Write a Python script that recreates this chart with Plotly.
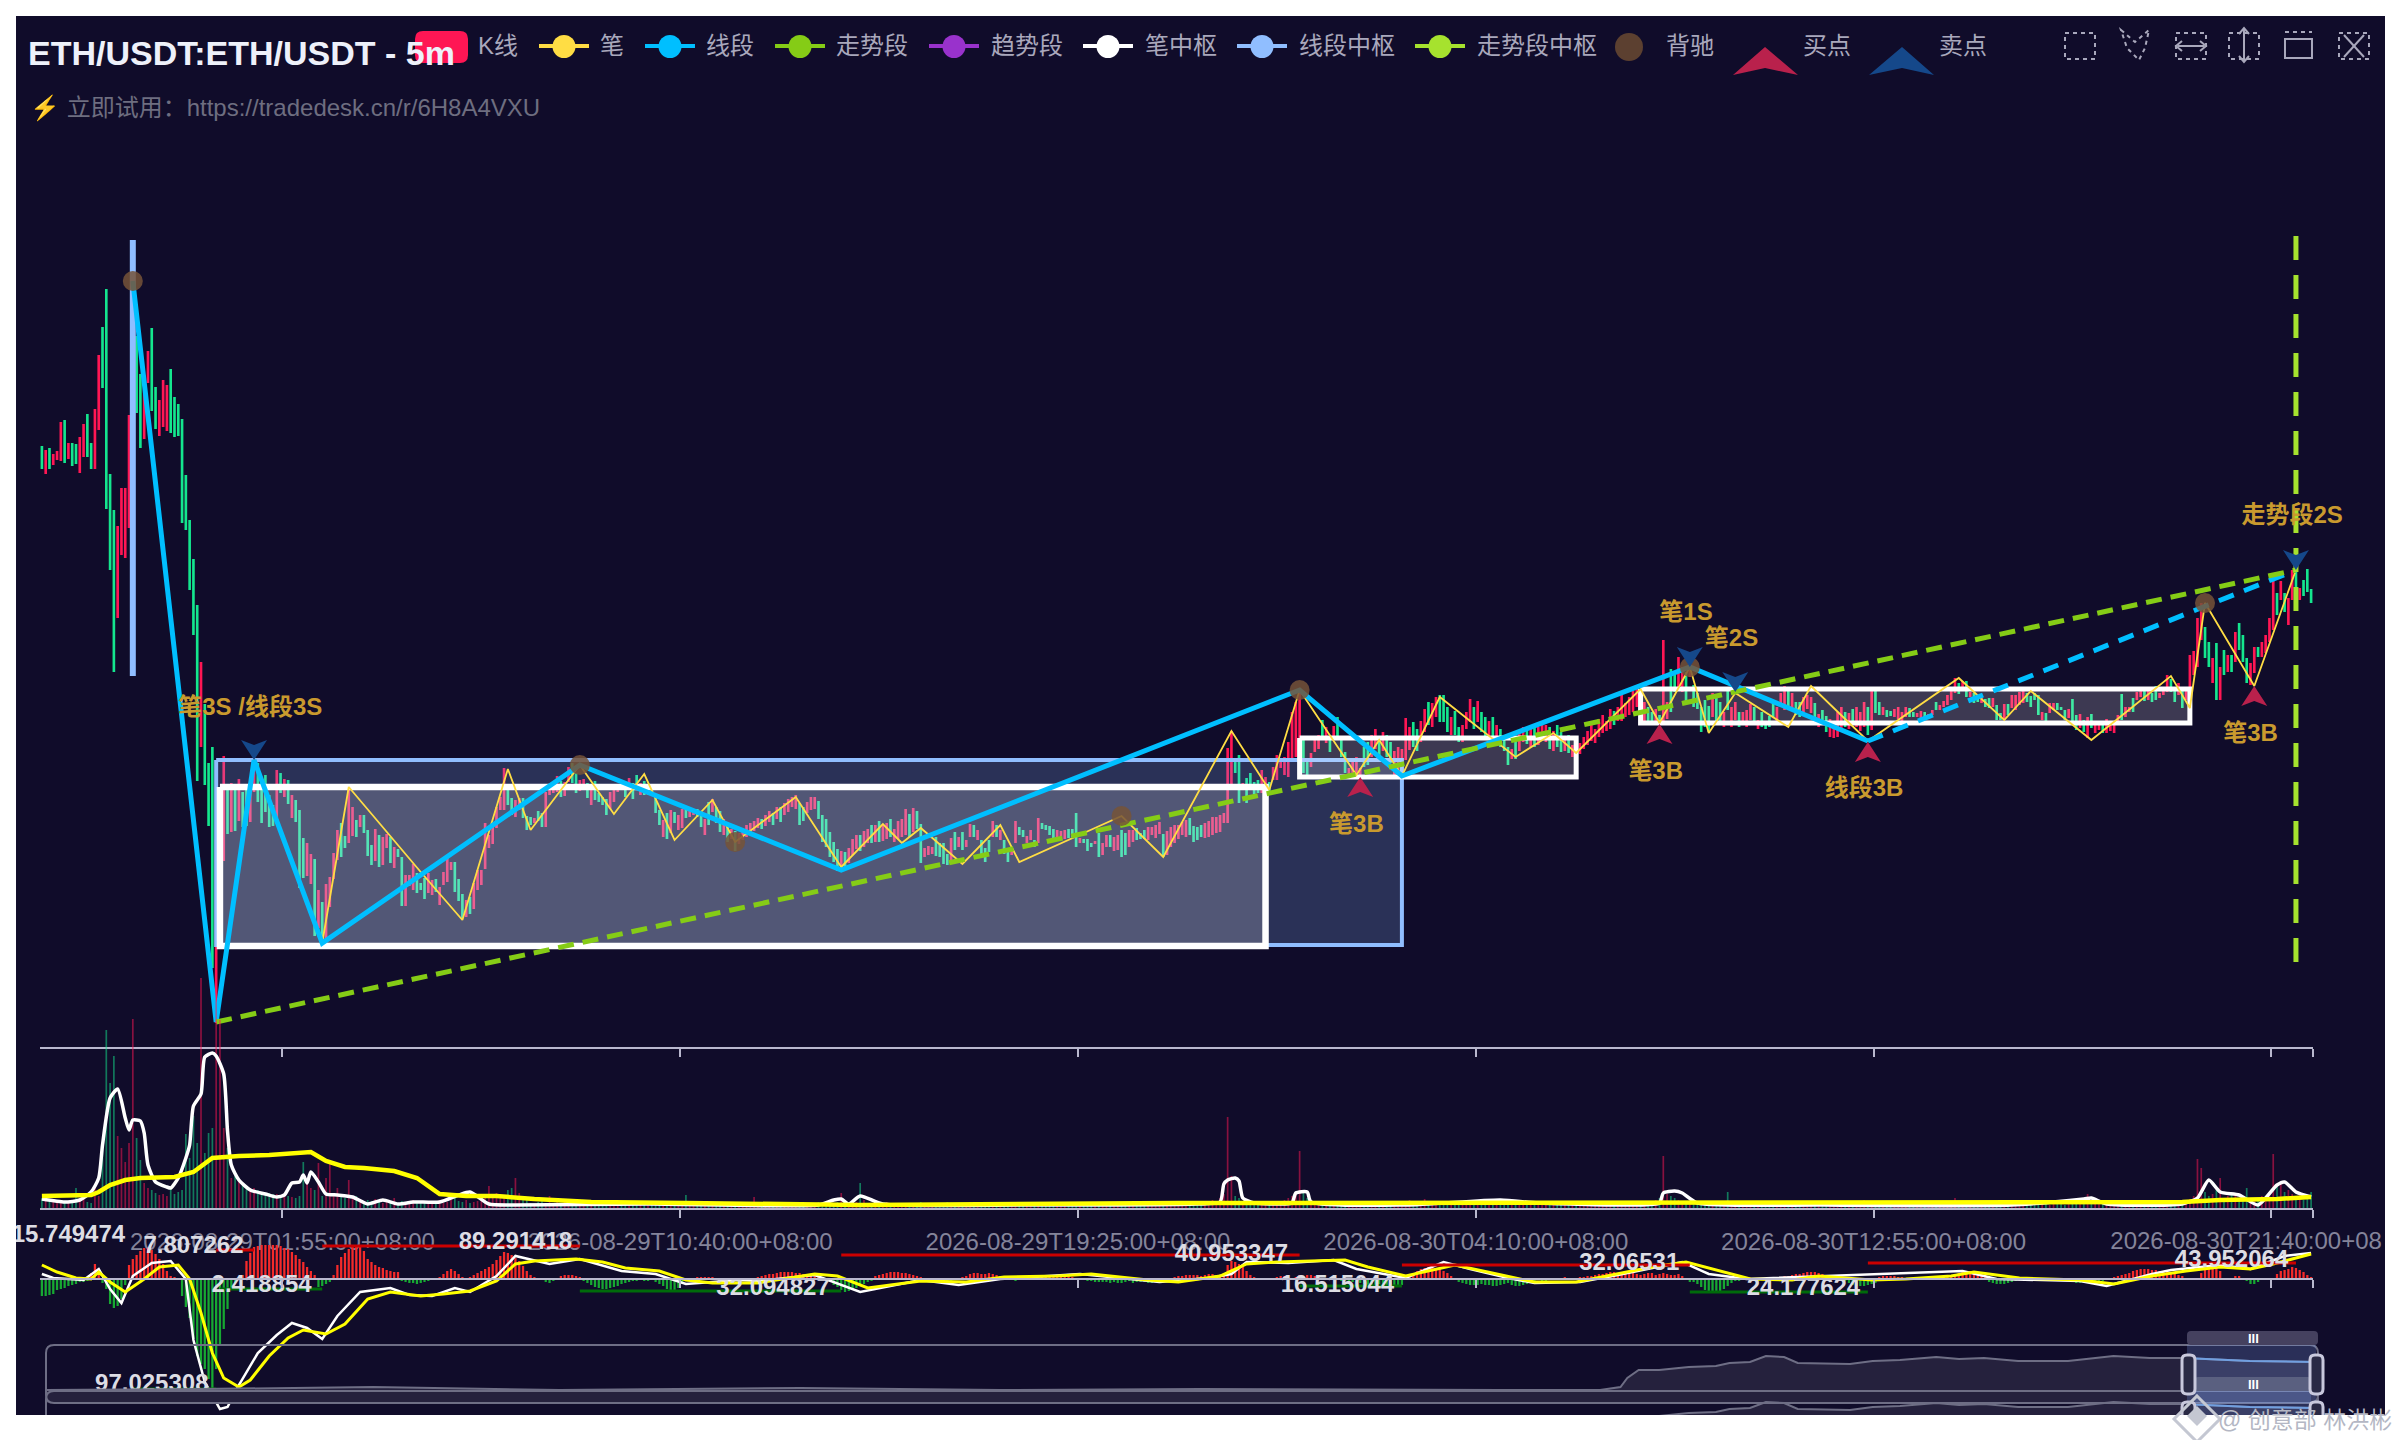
import plotly.graph_objects as go

W = 2400
H = 1440

# candles, heights, one row = 10 bars
candle_top = [
601,597,599,593,596,625,627,604,604,603, 610,623,633,604,638,692,720,758,573,537,
521,559,559,632,765,711,673,669,696,719, 660,647,667,662,678,650,643,628,572,527,
488,442,385,343,284,300,208,245,291,258, 264,259,268,255,257,270,286,284,265,272,
252,242,277,274,268,267,252,247,237,209, 204,193,188,157,145,163,170,194,217,224,
211,260,240,227,232,232,217,202,218,212, 210,213,210,200,198,190,172,172,183,174,
164,169,174,167,168,160,175,189,185,185, 168,153,147,150,164,177,177,224,212,220,
240,250,279,263,249,247,249,249,231,230, 229,236,234,255,257,265,271,266,265,280,
284,274,267,268,264,259,266,254,250,248, 255,257,262,263,262,269,264,272,264,266,
261,258,250,237,227,234,237,235,232,238, 240,237,238,238,231,228,245,248,240,236,
228,224,218,216,214,218,222,224,226,229, 228,232,236,234,240,240,244,248,250,252,
244,240,245,250,250,246,232,228,215,205, 198,196,195,199,208,212,212,216,218,222,
222,226,222,224,228,218,226,228,238,233, 239,236,223,199,201,200,210,204,204,193,
209,215,210,215,207,223,222,217,207,199, 207,226,222,217,207,199,198,226,220,217,
211,217,207,229,224,222,221,218,217,216, 217,218,218,234,209,208,208,204,206,214,
204,212,212,210,212,217,214,217,217,219, 214,217,220,220,222,225,213,216,220,222,
222,225,227,229,221,220,222,224,226,230, 230,232,234,299,316,287,292,264,269,274,
265,267,277,270,265,280,292,288,290,305, 335,345,357,307,287,294,310,312,327,320,
310,321,330,310,295,279,285,290,279,300, 305,312,318,310,315,312,305,296,300,298,
329,320,325,318,326,338,345,344,350,352, 352,340,330,336,320,322,335,348,340,346,
335,330,326,330,322,318,312,300,298,306, 316,320,320,318,322,320,326,322,320,316,
322,315,310,312,302,300,304,310,316,322, 318,328,332,326,338,336,340,352,344,350,
356,360,358,345,340,335,338,332,407,345, 378,372,390,380,375,387,362,354,340,347,
341,354,350,345,335,357,340,345,335,335, 337,343,340,327,335,325,331,344,340,354,
361,360,354,345,345,350,352,350,344,333, 337,331,328,325,335,340,335,334,338,340,
335,345,340,357,358,345,340,337,336,338, 340,335,
340,339,335,334,336,335,333,337,345,342,346,
352,360,369,364,366,366,355,354,350,350,348,
349,349,342,334,343,343,352,352,355,357,354,
351,354,352,335,334,344,344,344,340,337,338,
348,332,333,327,330,333,324,322,322,328,326,
324,332,353,340,340,349,355,360,359,356,354,
361,354,359,372,368,360,364,359,359,392,396,
429,444,420,405,389,404,380,397,392,392,
415,424,412,389,384,400,400,405,412,429,
474,454,466,454,449,477,475,459,467,478,458]
candle_bottom = [
578,573,578,582,587,586,584,588,581,583, 574,590,590,578,578,617,659,538,477,375,
429,492,489,519,620,634,599,608,664,636, 618,611,620,616,614,610,611,524,517,457,
412,266,300,262,221,79,24,171,186,213, 215,216,226,220,221,225,255,245,224,235,
220,221,229,254,250,243,229,225,159,169, 171,163,111,119,102,104,140,168,187,190,
199,204,211,210,220,214,191,182,186,180, 182,199,184,179,190,141,141,161,157,154,
157,148,154,152,155,142,162,165,177,155, 146,129,130,133,138,157,162,178,199,203,
219,237,237,242,232,230,237,229,217,222, 224,226,220,220,252,254,255,250,251,265,
264,254,256,260,249,242,247,245,242,232, 238,245,255,258,250,258,248,260,252,252,
252,252,234,222,210,208,214,224,217,219, 229,230,232,230,220,212,222,235,224,215,
212,205,208,196,203,207,210,213,216,219, 218,221,225,222,228,225,232,235,240,238,
222,226,234,237,238,228,205,200,190,185, 176,176,178,184,192,198,196,200,204,204,
205,205,206,208,210,205,208,210,212,210, 215,218,184,190,192,193,191,190,183,182,
187,197,200,197,200,210,210,207,193,185, 195,210,210,207,193,185,192,204,212,210,
204,207,200,204,218,217,212,208,209,207, 208,209,210,200,204,204,196,200,203,190,
192,200,200,196,197,190,192,200,205,207, 208,208,207,212,209,213,190,192,200,204,
208,212,210,212,205,207,210,209,210,212, 214,215,224,224,260,274,244,260,244,260,
253,254,254,258,253,267,267,279,272,270, 285,290,280,274,272,280,295,298,309,304,
295,309,307,290,274,269,272,270,269,280, 282,290,298,290,296,290,284,272,271,272,
287,297,300,296,305,315,322,320,330,325, 325,315,312,312,305,305,318,325,318,325,
315,310,312,310,308,300,296,282,288,288, 296,305,303,300,300,302,310,305,298,296,
300,295,296,294,290,290,293,298,302,306, 304,310,314,316,318,322,326,326,330,332,
335,340,332,325,323,322,325,322,324,328, 335,355,360,355,345,370,340,338,315,320,
315,330,326,325,320,337,320,327,320,322, 320,327,325,318,320,318,320,330,325,340,
337,340,338,332,330,335,338,334,325,320, 323,315,310,309,310,317,320,318,322,320,
316,320,312,317,334,332,332,330,331,330, 328,325,
330,330,330,330,329,330,330,332,337,337,340,
342,347,354,353,356,350,350,344,345,344,340,
339,340,327,327,327,332,339,337,342,344,345,
340,347,332,327,325,334,337,337,337,327,329,
324,317,319,315,309,319,314,317,314,314,316,
314,322,327,330,335,335,347,350,346,347,345,
347,349,352,355,355,345,352,339,347,359,372,
380,407,389,380,364,347,347,372,375,375,
385,397,385,364,362,374,390,390,394,405,
417,432,447,435,422,447,448,447,451,455,444]
candle_dir = (
"GRGRRRGRGG RRGGRRGGGG RRRRRGGRRG GRRRGGGGGG GGRGGGRRRG RGRGGRRGGG "
"GGRGRGRGGG RRGRGRRRRG GRRGRGGGRG RRGRGGRRRG GGRRGRRRRG GGRGRRRRRR "
"RRRGGRRGGG RGGRRRRGRR GGRRGRGGGG RRRGGRGGRG RGGGRGRGRR GRRGGRGRGG "
"RGRGRRRRRR GRRGRGRRRR GGRRRGGGGG GRGRRRGRRG RGRRGRRRRG RGGRRRGGGG "
"RGRGRRGRGG GRGRGGRRGG RRGRGGGGRR RGGGRGGGRG RRGRRGGRRG GGRRRRGRRR "
"RRRGGGGRRR RRRRRGGRGG GGRRGRRRRR RRRGGRRRGR GRGGGRRRRG GRRGRGGRRR "
"RRGGRRGRRG GGRGGRRRGR GGRGRGGGRG RRGRGRRRGR GGRGRGRRRR RRRRRGRRRR "
"RRGRGGRGRR GGRRGRGGGG GRGGRGRRGR RRGRGGGGRR RGRGGRRRGR GGRRRRGRGR "
"RRGRGGRGGR RR "
"RGGRRGRRGRR RRRGRGRGGRG GRGGRGRRRRG GGGRGRRGGGR GGRGRGRRGRR RRGRRGRRGRG "
"GRRRGGRGRRR RRGGRGRGRG RGGGRRGRRR RGRGRRGRGGG").replace(" ", "")

# zigzag pivots: bar index, height
bi_idx = [46,56,74,81,100,111,123,129,142,151,159,167,177,183,199,211,222,227,232,243,253,258,285,296,314,324,332,347,353,359,369,389,399,405,422,427,435,440,447,461,467,482,506,518,525,541,562,567,571,584,595]
bi_price = [25,287,104,260,175,127,278,217,282,233,273,207,247,205,250,180,223,204,219,183,222,185,231,190,316,257,357,272,307,271,350,290,314,294,358,324,380,314,354,320,361,306,369,327,356,307,371,339,444,361,477]
duan_idx = [24,46,56,74,142,211,332,359,435,482]
duan_price = [766,25,287,104,282,177,357,271,380,306]
duan_dash_idx = [482,595]
duan_dash_price = [306,477]
trend_idx = [46,595]
trend_price = [25,477]

# centre boxes
seg_box_start = [46]
seg_box_end = [359]
seg_box_top = [287]
seg_box_bottom = [102]
bi_box_start = [47,332,422]
bi_box_end = [323,405,567]
bi_box_top = [260,309,358]
bi_box_bottom = [101,270,324]
seg_bar_idx = [24,24]
seg_bar_price = [807,371]
trend_bar_idx = [595,595]
trend_bar_price = [811,80]

# signals
diverge_idx = [24,142,183,285,332,435,571]
diverge_price = [766,282,205,231,357,380,444]
buy_idx = [348,427,482,584]
buy_price = [270,323,305,361]
sell_idx = [56,435,447,595]
sell_price = [287,380,355,477]
signal_text = ["笔3S /线段3S","笔3B","笔3B","线段3B","笔1S","笔2S","笔3B","走势段2S"]
signal_idx = [55,347,426,481,434,446,583,594]
signal_price = [338,221,274,257,433,407,312,530]

# volume panel
volume = [
10,8,7,7,5,6,5,5,7,20, 8,14,6,5,23,12,65,178,125,152, 72,60,46,65,189,70,48,25,20,18, 15,13,14,12,20,14,16,18,74,50,
92,65,230,55,75,80,240,188,80,60, 30,32,28,25,22,20,20,18,16,15, 15,14,14,13,12,12,11,10,12,46, 25,20,18,45,12,30,48,15,20,14,
10,28,10,12,8,6,8,7,9,6, 5,8,6,10,5,7,6,5,8,5, 6,5,4,6,5,8,5,6,8,10, 7,6,8,5,6,7,9,12,22,14,
15,10,12,18,20,30,15,10,8,5, 4,6,8,5,12,5,6,4,7,4, 6,5,4,3,5,4,6,7,5,4, 6,4,5,3,4,6,4,7,4,5,
4,3,4,5,6,4,3,5,4,3, 13,4,3,5,4,3,5,4,3,4, 3,5,4,4,3,4,3,5,11,4, 3,4,5,3,4,3,6,4,3,5,
4,3,5,4,3,6,4,3,5,4, 6,15,5,4,3,6,25,8,5,4, 5,4,3,6,4,3,5,4,3,5, 4,3,6,5,3,4,5,3,4,6,
4,3,5,4,3,6,5,4,3,5, 4,6,3,5,4,3,5,4,6,3, 4,5,3,6,4,3,5,4,3,5, 6,3,4,5,3,4,6,3,5,4,
3,5,4,6,3,4,5,3,4,6, 3,5,4,3,6,4,5,3,4,5, 6,4,3,5,4,6,3,5,4,8, 6,10,14,91,32,12,10,7,5,6,
4,5,6,4,3,7,5,4,8,10, 12,14,57,18,10,8,6,5,7,4, 5,4,6,3,5,4,6,4,3,5, 4,6,3,5,4,6,3,4,5,3,
6,8,5,7,4,9,6,5,7,4, 5,6,4,7,5,3,6,4,5,3, 4,6,3,5,4,3,6,5,3,4, 5,3,6,4,3,5,4,6,3,4,
5,3,4,6,3,5,4,3,6,4, 3,5,4,6,3,5,4,3,6,4, 5,3,4,6,4,5,8,10,52,14, 12,10,8,6,7,8,5,6,4,5,
4,6,5,3,7,16,5,4,6,3, 5,4,3,6,4,3,5,4,6,3, 4,5,3,6,4,3,5,4,3,6, 4,5,3,4,6,3,5,4,3,5,
6,8,5,4,3,6,4,5,3,4, 5,3,4,6,3,4,5,3,6,4, 3,5,4,6,3,10,5,4,3,6, 5,4,7,4,3,6,4,5,3,4,
6,3,5,4,3,6,4,3,5,4, 3,6,5,4,3,6,4,5,8,10, 14,7,5,4,6,3,5,4,3,6, 5,4,7,4,3,8,4,6,5,7,
4,6,5,8,6,5,7,9,12,49, 40,16,12,14,18,30,10,12,16,14, 10,12,20,10,9,8,12,10,14,54, 22,26,16,18,14,10,14,8,12,16]
vol_fast_idx = [0,6,10,13,15,16,18,20,22,23,24,26,27,28,30,33,34,36,38,39,40,42,43,45,46,48,49,50,52,55,59,62,64,66,68,69,70,71,73,75,78,82,86,90,94,98,105,110,113,118,125,160,205,209,211,213,216,222,260,305,311,312,313,315,316,317,320,328,330,331,334,335,360,385,395,420,427,428,431,433,437,470,520,539,541,545,565,569,572,575,580,585,590,592,595,599]
vol_fast = [9,6,8,16,30,63,110,119,90,78,88,87,75,43,26,21,20,30,50,63,102,114,151,155,152,134,77,43,28,18,14,11,13,25,26,33,25,36,26,14,13,11,4,8,4,6,6,13,16,4,3,4,3,8,9,4,12,4,3,4,6,24,28,30,27,10,5,4,5,15,16,6,3,8,5,3,5,15,17,15,5,3,3,9,10,4,4,10,28,16,13,3,23,26,16,11]
vol_slow_idx = [0,10,13,15,18,22,26,35,40,45,48,52,60,66,71,75,80,85,93,99,105,112,120,130,145,170,216,300,400,500,565,575,590,599]
vol_slow = [12,12,13,16,23,28,30,31,36,50,51,52,53,55,56,47,41,40,37,30,14,12,12,9,6,5,3,5,5,5,6,8,9,11]

# macd panel
macd_hist = [
-17,-17,-16,-15,-11,-10,-9,-7,-6,-5, -3,-3,-2,6,15,8,-4,-10,-25,-29, -27,-20,-6,14,20,24,28,31,31,29, 25,20,15,8,3,2,1,-17,-28,-39,
-60,-77,-85,-90,-100,-109,-90,-67,-50,-30, -10,-4,-1,4,18,26,32,33,34,34, 34,34,34,33,31,30,27,24,20,17, 12,8,4,-8,-7,-5,-3,4,14,22,
26,30,32,33,33,28,20,17,14,12, 11,9,8,7,7,-2,-3,-4,-4,-5, -4,-3,-2,-1,1,2,5,8,10,8, 5,2,-1,2,4,6,8,10,12,15,
19,23,27,26,24,21,18,13,8,4, 2,1,-1,-3,-4,-2,1,3,4,4, 4,3,2,-2,-4,-6,-8,-9,-10,-10, -9,-8,-7,-5,-4,-3,-2,-2,-1,-2,
-2,-1,-3,-5,-7,-10,-12,-12,-9,-5, -2,1,1,2,2,2,2,2,1,-1, -2,-2,-2,-2,-1,-2,-2,-1,1,2, 3,4,5,5,6,7,7,7,7,6,
6,5,5,4,4,3,2,1,-3,-6, -8,-11,-13,-12,-10,-9,-7,-5,-3,-2, 3,4,5,6,7,7,7,6,6,5, 4,3,2,-1,-2,-2,-3,-2,-1,-2,
-2,-1,1,2,3,5,6,6,5,5, 6,5,4,3,2,2,-1,-2,-1,1, 2,3,3,3,4,3,2,3,3,2, 3,3,2,1,1,-1,-2,-2,-3,-3,
-3,-3,-4,-3,-4,-4,-3,-2,-4,-3, -3,-3,-4,-4,-2,-1,-1,1,1,2, 3,3,4,4,4,4,3,4,5,5, 3,2,5,14,18,17,15,12,8,4,
2,1,-1,0,-1,1,2,3,3,1, 1,2,4,3,4,4,3,2,1,1, 0,-1,-1,-2,-2,-3,-3,-4,-4,-5, -6,-6,-6,-5,-6,-7,-8,-8,-8,-6,
2,4,6,8,10,11,12,12,11,10, 8,6,3,1,-3,-4,-5,-6,-6,-6, -5,-6,-6,-7,-7,-6,-5,-4,-6,-7, -7,-6,-5,-3,-2,-1,-2,-2,-1,1,
1,1,2,-1,-1,1,2,2,3,3, 4,5,5,6,7,7,6,5,5,7, 6,5,4,5,6,6,4,5,6,5, 4,4,5,3,-1,-3,-3,-5,-8,-11,
-12,-13,-13,-12,-10,-7,-4,-2,-2,-1, -1,-1,-2,-2,-1,1,1,1,2,2, 3,3,4,5,5,6,7,7,7,6, 5,3,3,2,1,-1,-2,-4,-6,-7,
-7,-7,-6,-5,-4,2,3,3,3,3, 2,2,1,1,1,1,1,1,1,1, 1,1,2,3,4,5,6,7,8,8, 7,6,5,4,-3,-4,-5,-5,-5,-4,
-3,-2,-1,-1,-1,-2,-1,-1,1,1, 1,1,-1,-1,-2,-2,-3,-4,-4,-4, -4,-4,-3,-3,-2,-1,1,2,3,4, 5,6,8,9,10,10,10,9,9,8,
8,7,7,6,4,3,1,1,-1,-1, 6,10,12,12,11,8,-1,-1,1,3, 3,1,-2,-5,-5,-3,-1,1,1,1, 5,8,9,10,12,11,9,7,4,2]
dif_idx = [0,3,11,15,18,21,24,29,34,38,40,43,47,49,52,57,62,66,70,74,78,84,92,97,103,109,113,120,125,134,142,153,162,170,184,189,204,216,232,242,253,274,295,308,314,318,329,341,347,360,370,377,387,394,406,416,433,440,450,507,516,538,545,557,562,575,583,592,599]
dif = [5,1,-1,10,-10,-24,3,16,18,0,-61,-103,-130,-128,-106,-74,-56,-44,-49,-60,-37,-13,-9,-16,-17,-9,-13,3,23,15,20,8,5,-5,-1,-2,4,-13,-1,-6,0,5,-3,1,5,17,16,19,10,1,17,10,1,-4,-3,4,17,5,0,8,0,-2,-7,5,9,14,10,23,26]
dea_idx = [0,4,9,13,15,18,22,27,31,36,39,42,45,48,52,55,60,65,69,75,80,86,92,100,106,113,120,125,130,141,148,154,163,170,177,189,204,210,218,232,244,254,268,277,292,300,311,318,326,344,350,360,373,387,394,405,416,425,434,443,451,462,469,483,492,504,510,522,538,547,557,566,575,583,589,599]
dea = [14,7,1,0,7,-3,-13,0,12,14,0,-34,-74,-99,-108,-101,-77,-59,-51,-55,-45,-20,-13,-17,-15,-12,-2,15,18,20,17,11,8,-1,-4,-4,5,3,-9,-2,-3,2,3,5,-1,-3,3,15,17,19,12,3,14,3,-3,-3,5,12,17,8,0,-1,3,-1,0,3,7,1,-1,-5,3,8,12,10,15,25]
mark_label = ["15.749474","7.807262","2.418854","89.291418","97.025308","32.094827","40.953347","16.515044","32.06531","24.177624","43.952064"]
mark_idx = [7,40,58,125,29,193,314,342,419,465,578]
mark_value = [43,32,-7,36,-106,-10,24,-7,15,-10,18]
red_line_start = [46,74,211,359,482]
red_line_end = [56,142,332,435,595]
red_line_level = [29,33,24,14,16]
green_line_start = [24,47,142,332,435]
green_line_end = [46,74,211,359,482]
green_line_level = [-110,-10,-12,-7,-13]

tick_idx = [63.5,168.5,273.5,378.5,483.5,588.5,599.5]
tick_text = ["2026-08-29T01:55:00+08:00","2026-08-29T10:40:00+08:00","2026-08-29T19:25:00+08:00","2026-08-30T04:10:00+08:00","2026-08-30T12:55:00+08:00","",""]
# this label runs off the chart in the reference, only its visible part is kept
last_tick_text = ["2026-08-30T21:40:00+08"]
last_tick_idx = [546]
last_tick_level = [36]

# whole history in the zoom sliders: percent along the slider, level
history_pos = [0,6.8,14.4,22.6,33.2,42,50.8,59.6,64,68.4,69.3,69.6,70.1,71,72.3,73.5,74.1,75,75.7,76.5,77.1,79.4,80.4,81.6,83.2,84.2,85.3,86.8,89,91,92.6,94.1,97,99.9]
history_level = [13,14,16,13,15,13,14,13,13,13,16,25,33,33,36,37,40,41,47,46,40,39,42,43,46,44,45,42,42,47,45,45,42,41]

legend_names = ["笔","线段","走势段","趋势段","笔中枢","线段中枢","走势段中枢"]
legend_colors = ["#FFDD44","#00BFFF","#85CC16","#9932CC","#FFFFFF","#90BEFF","#A6E22E"]
legend_centers = [564,670,800,954,1108,1262,1440]
legend_text_x = [598,704,834,989,1143,1297,1475]

RED = "#FF1654"
GREEN = "#14E68E"
BG = "#100C2A"
AXIS = "#B9B8CE"
FONT = "Liberation Sans, Noto Sans CJK SC, sans-serif"


def fx(x):
    return x / W


def fy(y):
    return 1 - y / H


def path_of(points, close=True):
    s = "M" + " L".join(f"{fx(x):.5f},{fy(y):.5f}" for x, y in points)
    return s + (" Z" if close else "")


def rounded(x0, y0, x1, y1, r):
    a = f"M{fx(x0+r):.5f},{fy(y0):.5f} L{fx(x1-r):.5f},{fy(y0):.5f} Q{fx(x1):.5f},{fy(y0):.5f} {fx(x1):.5f},{fy(y0+r):.5f} "
    b = f"L{fx(x1):.5f},{fy(y1-r):.5f} Q{fx(x1):.5f},{fy(y1):.5f} {fx(x1-r):.5f},{fy(y1):.5f} "
    c = f"L{fx(x0+r):.5f},{fy(y1):.5f} Q{fx(x0):.5f},{fy(y1):.5f} {fx(x0):.5f},{fy(y1-r):.5f} "
    d = f"L{fx(x0):.5f},{fy(y0+r):.5f} Q{fx(x0):.5f},{fy(y0):.5f} {fx(x0+r):.5f},{fy(y0):.5f} Z"
    return a + b + c + d


def add_path(fig, p, fill=None, line=None, width=0, dash=None, layer="above"):
    fig.add_shape(type="path", path=p, xref="paper", yref="paper", layer=layer,
                  fillcolor=fill or "rgba(0,0,0,0)",
                  line=dict(color=line or "rgba(0,0,0,0)", width=width, dash=dash))


def add_text(fig, x, y, text, size, color, anchor="left", bold=False):
    fig.add_annotation(x=fx(x), y=fy(y), xref="paper", yref="paper", text=text, showarrow=False,
                       xanchor=anchor, yanchor="middle",
                       font=dict(size=size, color=color, family=FONT, weight="bold" if bold else "normal"))


# arrow polygon around a signal point, the tip sits on the point
def arrow_points(idx, price, up):
    side = 13 / 3.79
    tall = -20 if up else 20
    notch = -15 if up else 15
    return [idx, idx - side, idx, idx + side, idx], [price, price + tall, price + notch, price + tall, price]


fig = go.Figure()

# centre boxes go under the candles
fig.add_trace(go.Scatter(x=[seg_box_start[0], seg_box_end[0], seg_box_end[0], seg_box_start[0], seg_box_start[0]],
                         y=[seg_box_top[0], seg_box_top[0], seg_box_bottom[0], seg_box_bottom[0], seg_box_top[0]],
                         mode="lines", fill="toself", fillcolor="rgba(144,190,255,0.21)",
                         line=dict(color="#90BEFF", width=4), showlegend=False))
for k, (s, e, t, b) in enumerate(zip(bi_box_start, bi_box_end, bi_box_top, bi_box_bottom)):
    fig.add_trace(go.Scatter(x=[s, e, e, s, s], y=[t, t, b, b, t], mode="lines", fill="toself",
                             fillcolor="rgba(255,255,255,0.19)",
                             line=dict(color="#FFFFFF", width=6.5 if k == 0 else 5), showlegend=False))
fig.add_trace(go.Scatter(x=seg_bar_idx, y=seg_bar_price, mode="lines",
                         line=dict(color="#90BEFF", width=6), showlegend=False))

# candles as floating bars, they keep the crisp 2px look of the reference
candle_idx = list(range(len(candle_top)))
candle_span = [t - b for t, b in zip(candle_top, candle_bottom)]
candle_colors = [RED if d == "R" else GREEN for d in candle_dir]
fig.add_trace(go.Bar(x=candle_idx, y=candle_span, base=candle_bottom, width=0.7,
                     marker=dict(color=candle_colors, line=dict(width=0)), showlegend=False))

fig.add_trace(go.Scatter(x=bi_idx, y=bi_price, mode="lines", line=dict(color="#FFDD44", width=1.8), showlegend=False))
fig.add_trace(go.Scatter(x=duan_idx, y=duan_price, mode="lines", line=dict(color="#00BFFF", width=5), showlegend=False))
fig.add_trace(go.Scatter(x=duan_dash_idx, y=duan_dash_price, mode="lines",
                         line=dict(color="#00BFFF", width=5, dash="16px,11px"), showlegend=False))
fig.add_trace(go.Scatter(x=trend_idx, y=trend_price, mode="lines",
                         line=dict(color="#85CC16", width=5, dash="16px,9px"), showlegend=False))
fig.add_trace(go.Scatter(x=trend_bar_idx, y=trend_bar_price, mode="lines",
                         line=dict(color="#A6E22E", width=5, dash="24px,15px"), showlegend=False))
fig.add_trace(go.Scatter(x=diverge_idx, y=diverge_price, mode="markers",
                         marker=dict(size=20, color="rgba(118,84,56,0.85)"), showlegend=False))
for i, p in zip(buy_idx, buy_price):
    ax, ay = arrow_points(i, p, True)
    fig.add_trace(go.Scatter(x=ax, y=ay, mode="lines", fill="toself", fillcolor="#B9214C",
                             line=dict(width=0), showlegend=False))
for i, p in zip(sell_idx, sell_price):
    ax, ay = arrow_points(i, p, False)
    fig.add_trace(go.Scatter(x=ax, y=ay, mode="lines", fill="toself", fillcolor="#15488A",
                             line=dict(width=0), showlegend=False))
fig.add_trace(go.Scatter(x=signal_idx, y=signal_price, mode="text", text=signal_text, cliponaxis=False,
                         textfont=dict(size=24, color="#C99A2E", family=FONT, weight="bold"), showlegend=False))

# volume
vol_colors = ["rgba(255,22,84,0.5)" if d == "R" else "rgba(20,230,142,0.5)" for d in candle_dir]
fig.add_trace(go.Bar(x=candle_idx, y=volume, marker=dict(color=vol_colors, line=dict(width=0)), width=0.45,
                     xaxis="x2", yaxis="y2", showlegend=False))
fig.add_trace(go.Scatter(x=vol_fast_idx, y=vol_fast, mode="lines",
                         line=dict(color="#FFFFFF", width=3.5, shape="spline", smoothing=0.6),
                         xaxis="x2", yaxis="y2", showlegend=False))
fig.add_trace(go.Scatter(x=vol_slow_idx, y=vol_slow, mode="lines", line=dict(color="#FFFF00", width=4.5),
                         xaxis="x2", yaxis="y2", showlegend=False))

# macd
hist_colors = ["#F52A2A" if v > 0 else "#17A832" for v in macd_hist]
fig.add_trace(go.Bar(x=candle_idx, y=macd_hist, marker=dict(color=hist_colors, line=dict(width=0)), width=0.6,
                     xaxis="x3", yaxis="y3", showlegend=False))
fig.add_trace(go.Scatter(x=dif_idx, y=dif, mode="lines", line=dict(color="#FFFFFF", width=2.5),
                         xaxis="x3", yaxis="y3", showlegend=False))
fig.add_trace(go.Scatter(x=dea_idx, y=dea, mode="lines", line=dict(color="#FFFF00", width=3),
                         xaxis="x3", yaxis="y3", showlegend=False))
for s, e, v in zip(red_line_start, red_line_end, red_line_level):
    fig.add_trace(go.Scatter(x=[s, e], y=[v, v], mode="lines", line=dict(color="#CC0000", width=3),
                             xaxis="x3", yaxis="y3", showlegend=False))
for s, e, v in zip(green_line_start, green_line_end, green_line_level):
    fig.add_trace(go.Scatter(x=[s, e], y=[v, v], mode="lines", line=dict(color="#006B0A", width=3),
                             xaxis="x3", yaxis="y3", showlegend=False))
fig.add_trace(go.Scatter(x=mark_idx, y=mark_value, mode="text", text=mark_label, cliponaxis=False,
                         textfont=dict(size=24, color="#DDDDE4", family=FONT, weight="bold"),
                         xaxis="x3", yaxis="y3", showlegend=False))
fig.add_trace(go.Scatter(x=last_tick_idx, y=last_tick_level, mode="text", text=last_tick_text, cliponaxis=False,
                         textposition="middle right", textfont=dict(size=24, color="#84849A", family=FONT),
                         xaxis="x3", yaxis="y3", showlegend=False))

# sliders
for xa, ya in (("x4", "y4"), ("x5", "y5")):
    fig.add_trace(go.Scatter(x=history_pos, y=history_level, mode="lines", fill="tozeroy", fillcolor="#25213D",
                             line=dict(color="#6E6E85", width=2), xaxis=xa, yaxis=ya, showlegend=False))
    fig.add_trace(go.Scatter(x=history_pos[-3:], y=history_level[-3:], mode="lines",
                             line=dict(color="#6A9CD8", width=2), xaxis=xa, yaxis=ya, showlegend=False))

# page and chart background
add_path(fig, path_of([(16, 16), (2385, 16), (2385, 1415), (16, 1415)]), fill=BG, layer="below")

# slider frames and windows
add_path(fig, rounded(46, 1345, 2318, 1403, 8), line="#6E6E85", width=2)
add_path(fig, rounded(46, 1391, 2318, 1449, 8), line="#6E6E85", width=2)
add_path(fig, path_of([(2187, 1345), (2316, 1345), (2316, 1403), (2187, 1403)]), fill="rgba(135,175,255,0.22)")
add_path(fig, path_of([(2195, 1391), (2311, 1391), (2311, 1449), (2195, 1449)]), fill="rgba(135,175,255,0.22)")
add_path(fig, rounded(2187, 1331, 2318, 1345, 4), fill="#45415F")
add_path(fig, rounded(2195, 1377, 2311, 1391, 3), fill="#5A6080")
for hx in (2182, 2310):
    add_path(fig, rounded(hx, 1355, hx + 13, 1394, 5), fill="#2A2A45", line="#C8C8DC", width=3)
    add_path(fig, rounded(hx, 1402, hx + 13, 1441, 5), fill="#2A2A45", line="#C8C8DC", width=3)

# white edges hide what runs off the chart
add_path(fig, path_of([(0, 0), (2400, 0), (2400, 16), (0, 16)]), fill="#FFFFFF")
add_path(fig, path_of([(0, 1415), (2400, 1415), (2400, 1440), (0, 1440)]), fill="#FFFFFF")
add_path(fig, path_of([(0, 0), (16, 0), (16, 1440), (0, 1440)]), fill="#FFFFFF")
add_path(fig, path_of([(2385, 0), (2400, 0), (2400, 1440), (2385, 1440)]), fill="#FFFFFF")

# header
add_path(fig, rounded(415, 31, 468, 63, 8), fill=RED)
add_text(fig, 26, 53, "ETH/USDT:ETH/USDT - 5m", 34, "#EEF1FA", bold=True)
add_text(fig, 28, 108, '<span style="color:#8A6D2C">⚡</span> 立即试用：https://tradedesk.cn/r/6H8A4VXU', 24, "#6E6E80")
add_text(fig, 476, 45, "K线", 24, "#A9A8BC")
for name, col, cx, tx in zip(legend_names, legend_colors, legend_centers, legend_text_x):
    add_path(fig, path_of([(cx - 25, 44), (cx + 25, 44), (cx + 25, 48), (cx - 25, 48)]), fill=col)
    fig.add_shape(type="circle", xref="paper", yref="paper", x0=fx(cx - 11.5), x1=fx(cx + 11.5), y0=fy(35), y1=fy(58),
                  fillcolor=col, line=dict(width=0))
    add_text(fig, tx, 45, name, 24, "#A9A8BC")
fig.add_shape(type="circle", xref="paper", yref="paper", x0=fx(1615), x1=fx(1643), y0=fy(33), y1=fy(61),
              fillcolor="#5C4030", line=dict(width=0))
add_text(fig, 1664, 45, "背驰", 24, "#A9A8BC")
add_path(fig, path_of([(1765, 47), (1798, 75), (1765, 68), (1733, 75)]), fill="#B9214C")
add_text(fig, 1801, 45, "买点", 24, "#A9A8BC")
add_path(fig, path_of([(1902, 47), (1934, 75), (1902, 68), (1869, 75)]), fill="#15488A")
add_text(fig, 1937, 45, "卖点", 24, "#A9A8BC")

# toolbox
TOOL = "#A9A8BC"
for cx in (2080, 2191, 2244, 2354):
    add_path(fig, path_of([(cx - 15, 33), (cx + 15, 33), (cx + 15, 59), (cx - 15, 59)]), line=TOOL, width=2, dash="4px,4px")
add_path(fig, path_of([(2121, 30), (2135, 42), (2149, 30), (2145, 48), (2139, 60), (2127, 48)]), line=TOOL, width=2, dash="4px,4px")
add_path(fig, path_of([(2178, 46), (2204, 46)], close=False), line=TOOL, width=2)
add_path(fig, path_of([(2182, 41), (2176, 46), (2182, 51)], close=False), line=TOOL, width=2)
add_path(fig, path_of([(2200, 41), (2206, 46), (2200, 51)], close=False), line=TOOL, width=2)
add_path(fig, path_of([(2244, 28), (2244, 62)], close=False), line=TOOL, width=2)
add_path(fig, path_of([(2239, 34), (2244, 28), (2249, 34)], close=False), line=TOOL, width=2)
add_path(fig, path_of([(2239, 56), (2244, 62), (2249, 56)], close=False), line=TOOL, width=2)
add_path(fig, path_of([(2285, 39), (2312, 39), (2312, 58), (2285, 58)]), line=TOOL, width=2)
add_path(fig, path_of([(2285, 32), (2312, 32)], close=False), line=TOOL, width=2, dash="4px,4px")
add_path(fig, path_of([(2344, 35), (2364, 57)], close=False), line=TOOL, width=2)
add_path(fig, path_of([(2364, 35), (2344, 57)], close=False), line=TOOL, width=2)

add_text(fig, 2253, 1338, "III", 13, "#FFFFFF", anchor="center", bold=True)
add_text(fig, 2253, 1384, "III", 13, "#FFFFFF", anchor="center", bold=True)

# watermark sits across the lower right corner
add_path(fig, path_of([(2197, 1396), (2220, 1419), (2197, 1442), (2174, 1419)]), line="#C4C7D2", width=3)
add_path(fig, path_of([(2197, 1406), (2207, 1416), (2197, 1426), (2187, 1416)]), fill="#C4C7D2")
add_text(fig, 2216, 1420, "@ 创意部 林洪彬", 23, "#B4B7C4")


def x_axis(domain_anchor, **kw):
    base = dict(domain=[fx(40), fx(2313)], range=[-0.5, 599.5], showgrid=False, zeroline=False,
                showline=True, linecolor=AXIS, linewidth=2, ticks="outside", ticklen=8, tickwidth=2, tickcolor=AXIS,
                tickmode="array", tickvals=tick_idx, ticktext=tick_text, showticklabels=False, tickangle=0,
                anchor=domain_anchor)
    base.update(kw)
    return base


def slider_x(anchor):
    return dict(domain=[fx(46), fx(2318)], range=[0, 100], visible=False, anchor=anchor)


fig.update_layout(
    width=W, height=H, margin=dict(l=0, r=0, t=0, b=0), autosize=False,
    paper_bgcolor="#FFFFFF", plot_bgcolor="rgba(0,0,0,0)", showlegend=False, dragmode=False, barmode="overlay",
    font=dict(family=FONT),
    xaxis=x_axis("y"),
    yaxis=dict(domain=[fy(1047), fy(200)], range=[0, 847], visible=False),
    xaxis2=x_axis("y2", showticklabels=True, ticklabelstandoff=3, tickfont=dict(size=24, color="#84849A", family=FONT)),
    yaxis2=dict(domain=[fy(1208), fy(960)], range=[0, 248], visible=False),
    xaxis3=x_axis("free", position=fy(1279), overlaying="x"),
    yaxis3=dict(domain=[fy(1415), fy(1220)], range=[-136, 59], visible=False, anchor="x"),
    xaxis4=slider_x("y4"),
    yaxis4=dict(domain=[fy(1403), fy(1345)], range=[0, 58], visible=False, anchor="x4"),
    xaxis5=slider_x("y5"),
    yaxis5=dict(domain=[0, fy(1391)], range=[9, 58], visible=False, anchor="x5"),
)

print(len(candle_top), len(candle_bottom), len(candle_dir), len(volume), len(macd_hist))
# the page should show the figure flush with the window, nothing hanging over
fig.write_html("out.html", config={"displayModeBar": False},
               post_script="document.body.style.margin='0';document.documentElement.style.overflow='hidden';document.body.style.overflow='hidden';")
